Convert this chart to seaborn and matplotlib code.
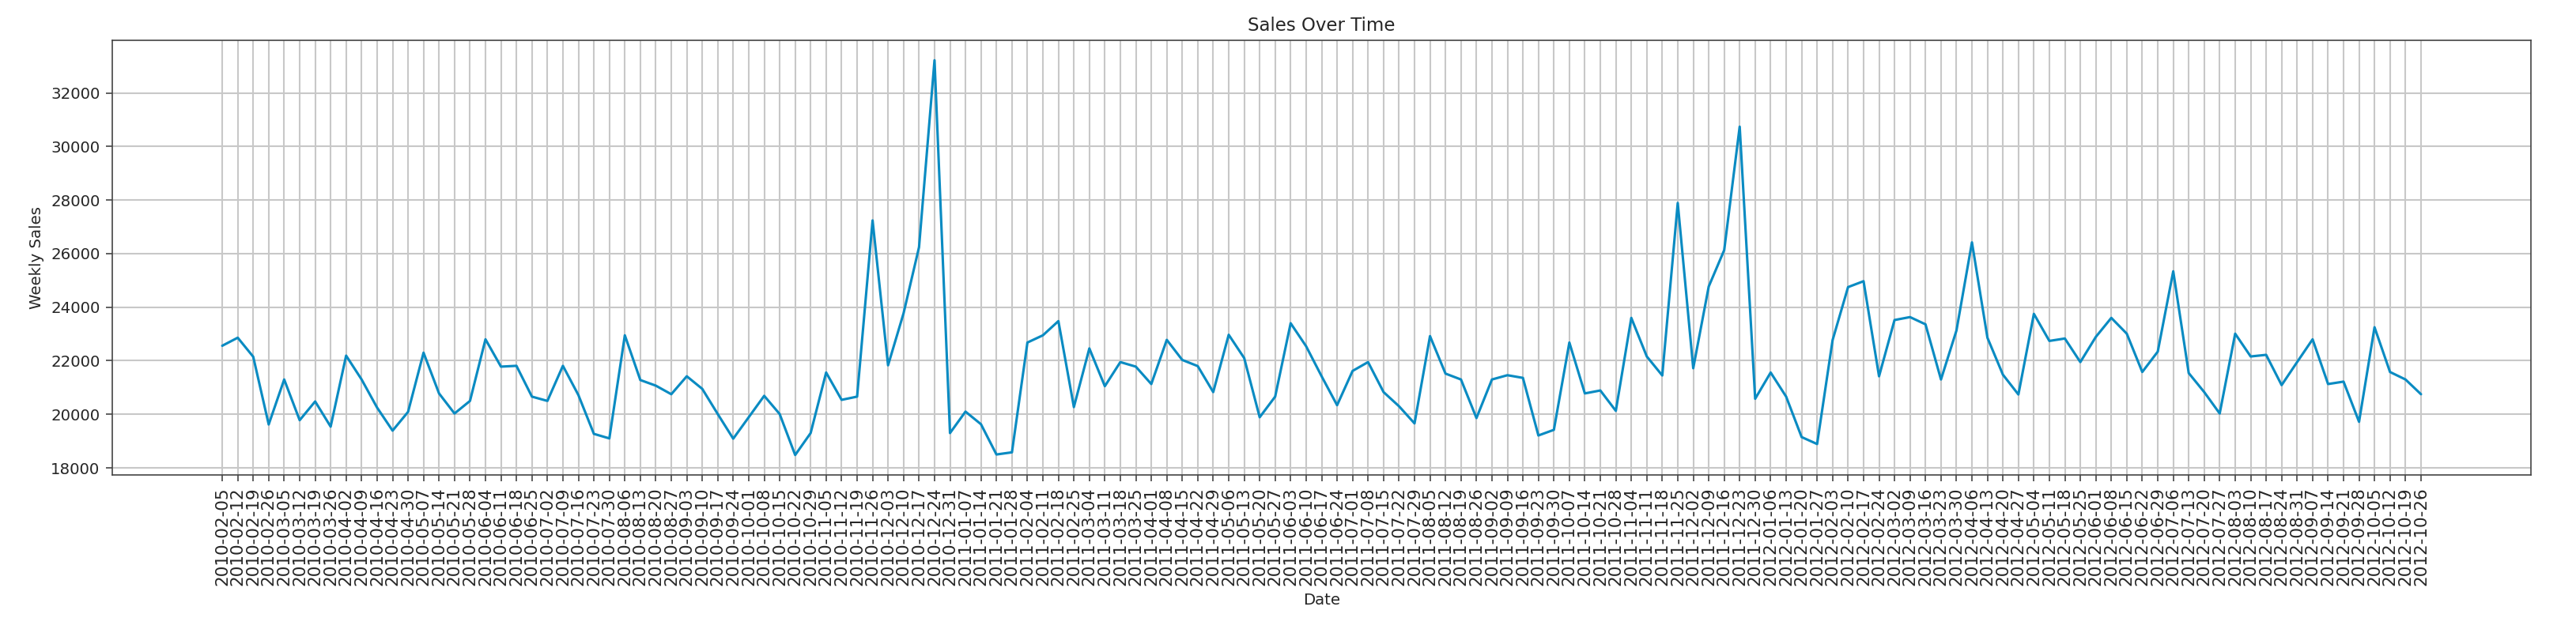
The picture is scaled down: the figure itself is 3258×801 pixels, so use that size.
import numpy as np
import pandas as pd
import matplotlib
matplotlib.use('Agg')
import matplotlib.pyplot as plt
import seaborn as sns

# weekly dates (tick labels)
dates = pd.date_range('2010-02-05', periods=143, freq='7D').strftime('%Y-%m-%d').tolist()

# weekly sales
sales_2010 = [22560, 22860, 22150, 19620, 21300, 19780, 20480, 19540, 22190, 21300,
              20250, 19390, 20090, 22300, 20780, 20030, 20500, 22800, 21780, 21810,
              20660, 20500, 21810, 20720, 19270, 19100, 22950, 21280, 21070, 20750,
              21420, 20950, 20010, 19090, 19890, 20690, 20010, 18480, 19300, 21560,
              20540, 20660, 27240, 21830, 23770, 26240, 33220]
sales_2011 = [19300, 20100, 19630, 18500, 18580, 22680, 22950, 23480, 20270, 22460,
              21050, 21950, 21780, 21130, 22780, 22030, 21800, 20830, 22970, 22100,
              19890, 20660, 23400, 22540, 21420, 20340, 21620, 21950, 20830, 20300,
              19660, 22920, 21520, 21300, 19860, 21300, 21460, 21360, 19210, 19420,
              22680, 20780, 20890, 20130, 23600, 22160, 21450, 27890, 21720, 24770,
              26130, 30740]
sales_2012 = [20580, 21560, 20660, 19150, 18890, 22770, 24750, 24970, 21420, 23520,
              23630, 23360, 21300, 23130, 26420, 22860, 21480, 20740, 23750, 22740,
              22830, 21950, 22890, 23600, 23010, 21580, 22340, 25340, 21540, 20830,
              20030, 23010, 22160, 22220, 21090, 21950, 22800, 21130, 21220, 19720,
              23250, 21580, 21300, 20750]
sales = sales_2010 + sales_2011 + sales_2012

df = pd.DataFrame({'Date': dates, 'Weekly Sales': sales})

sns.set_style('whitegrid')
fig, ax = plt.subplots(figsize=(21.72, 5.34), dpi=150)
fig.subplots_adjust(left=0.0436, right=0.9825, top=0.936, bottom=0.25)
sns.lineplot(data=df, x='Date', y='Weekly Sales', color='#0a8bc2', linewidth=1.5, ax=ax)
ax.grid(True, color='#c8c8c8', linewidth=1.0)
for s in ax.spines.values():
    s.set_color('#444444')
ax.tick_params(axis='both', length=4, color='#444444', labelsize=9.5, bottom=True, left=True)
ax.tick_params(axis='x', rotation=90, labelsize=10.3)
ax.set_yticks(np.arange(18000, 32001, 2000))
ax.set_title('Sales Over Time', fontsize=11)
ax.set_xlabel('Date', fontsize=9.5)
ax.set_ylabel('Weekly Sales', fontsize=9.5)
fig.savefig('out.png', dpi=150)
